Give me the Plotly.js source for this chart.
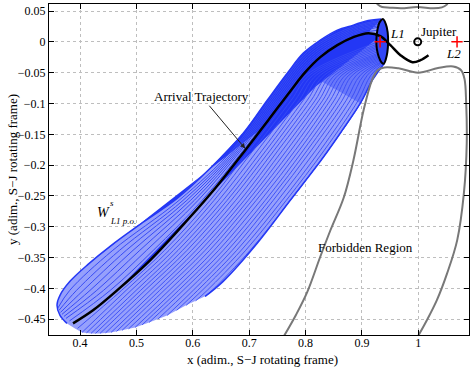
<!DOCTYPE html>
<html>
<head>
<meta charset="utf-8">
<script src="https://cdn.plot.ly/plotly-3.0.1.min.js"></script>
<style>html,body{margin:0;padding:0;background:#fff}#chart{width:474px;height:367px}</style>
</head>
<body>
<div id="chart"></div>
<script>
// ---------- axis ticks ----------
const xTickVals = [0.4, 0.5, 0.6, 0.7, 0.8, 0.9, 1];
const xTickText = ['0.4', '0.5', '0.6', '0.7', '0.8', '0.9', '1'];
const yTickVals = [-0.45, -0.4, -0.35, -0.3, -0.25, -0.2, -0.15, -0.1, -0.05, 0, 0.05];
const yTickText = ['\u22120.45', '\u22120.4', '\u22120.35', '\u22120.3', '\u22120.25', '\u22120.2', '\u22120.15', '\u22120.1', '\u22120.05', '0', '0.05'];

// ---------- manifold envelope ----------
const upperEdgeX = [0.9346, 0.9062, 0.8848, 0.8564, 0.8262, 0.7961, 0.7676, 0.7321, 0.6895, 0.6309, 0.5723, 0.5119, 0.4533, 0.4142, 0.3822, 0.3645, 0.3592, 0.3645, 0.3769];
const upperEdgeY = [0.0369, 0.0336, 0.0271, 0.0190, 0.0028, -0.0183, -0.0508, -0.0946, -0.1482, -0.2050, -0.2539, -0.2926, -0.3316, -0.3609, -0.3885, -0.4112, -0.4274, -0.4437, -0.4567];
const fringeX = [0.3911, 0.4036, 0.4195, 0.4355, 0.4551, 0.4746, 0.4977, 0.5225, 0.5545, 0.5883];
const fringeY = [-0.4648, -0.4713, -0.4729, -0.4729, -0.4713, -0.4680, -0.4632, -0.4551, -0.4437, -0.4274];
const lowerEdgeX = [0.9399, 0.9186, 0.8973, 0.8653, 0.8316, 0.7730, 0.7144, 0.6540, 0.6220];
const lowerEdgeY = [-0.0346, -0.0622, -0.0995, -0.1433, -0.1872, -0.2570, -0.3267, -0.3885, -0.4128];

// ---------- manifold trajectories between the outer edge and the arrival trajectory ----------
const outerLinesX = [
  [0.9337, 0.8848, 0.8262, 0.7961, 0.7357, 0.6700, 0.5758, 0.4582, 0.3818, 0.3609],
  [0.9328, 0.8848, 0.8262, 0.7961, 0.7392, 0.6735, 0.5829, 0.4702, 0.3938, 0.3627],
  [0.9319, 0.8848, 0.8262, 0.7961, 0.7428, 0.6766, 0.5896, 0.4821, 0.4058, 0.3654],
  [0.9310, 0.8848, 0.8262, 0.7961, 0.7463, 0.6797, 0.5962, 0.4941, 0.4178, 0.3680],
  [0.9301, 0.8848, 0.8262, 0.7961, 0.7499, 0.6828, 0.6029, 0.5061, 0.4297, 0.3716],
  [0.9293, 0.8848, 0.8262, 0.7961, 0.7534, 0.6859, 0.6096, 0.5181, 0.4417, 0.3751],
  [0.9284, 0.8848, 0.8262, 0.7961, 0.7570, 0.6895, 0.6167, 0.5301, 0.4537, 0.3814]
];
const outerLinesY = [
  [0.0352, 0.0247, -0.0005, -0.0224, -0.0946, -0.1758, -0.2570, -0.3381, -0.4031, -0.4315],
  [0.0336, 0.0222, -0.0037, -0.0265, -0.0946, -0.1758, -0.2570, -0.3381, -0.4031, -0.4356],
  [0.0312, 0.0198, -0.0074, -0.0309, -0.0946, -0.1758, -0.2570, -0.3381, -0.4031, -0.4388],
  [0.0287, 0.0174, -0.0110, -0.0354, -0.0946, -0.1758, -0.2570, -0.3381, -0.4031, -0.4420],
  [0.0263, 0.0149, -0.0147, -0.0399, -0.0946, -0.1758, -0.2570, -0.3381, -0.4031, -0.4453],
  [0.0239, 0.0125, -0.0183, -0.0443, -0.0946, -0.1758, -0.2570, -0.3381, -0.4031, -0.4486],
  [0.0190, 0.0101, -0.0216, -0.0484, -0.0946, -0.1758, -0.2570, -0.3381, -0.4031, -0.4526]
];
// ---------- manifold trajectories between the arrival trajectory and the inner edge ----------
const innerLinesX = [
  [0.9275, 0.8005, 0.7676, 0.7002, 0.6309, 0.5501, 0.4737, 0.3956],
  [0.9275, 0.8067, 0.7747, 0.7073, 0.6380, 0.5581, 0.4817, 0.4036],
  [0.9275, 0.8129, 0.7818, 0.7153, 0.6460, 0.5661, 0.4906, 0.4115],
  [0.9275, 0.8192, 0.7890, 0.7232, 0.6540, 0.5740, 0.4995, 0.4195],
  [0.9275, 0.8262, 0.7961, 0.7303, 0.6611, 0.5820, 0.5075, 0.4275],
  [0.9275, 0.8333, 0.8032, 0.7374, 0.6682, 0.5900, 0.5154, 0.4355],
  [0.9284, 0.8396, 0.8103, 0.7445, 0.6762, 0.5980, 0.5243, 0.4453],
  [0.9293, 0.8458, 0.8174, 0.7516, 0.6842, 0.6060, 0.5332, 0.4551],
  [0.9301, 0.8520, 0.8240, 0.7592, 0.6913, 0.6140, 0.5412, 0.4648],
  [0.9310, 0.8582, 0.8307, 0.7668, 0.6984, 0.6220, 0.5492, 0.4746],
  [0.9319, 0.8644, 0.8373, 0.7743, 0.7055, 0.6300, 0.5581, 0.4861],
  [0.9328, 0.8706, 0.8440, 0.7818, 0.7126, 0.6380, 0.5669, 0.4977],
  [0.9337, 0.8769, 0.8511, 0.7890, 0.7206, 0.6460, 0.5749, 0.5101],
  [0.9346, 0.8831, 0.8582, 0.7961, 0.7286, 0.6540, 0.5829, 0.5225],
  [0.9355, 0.8902, 0.8653, 0.8032, 0.7357, 0.6620, 0.5918, 0.5385],
  [0.9364, 0.8973, 0.8724, 0.8103, 0.7428, 0.6700, 0.6007, 0.5545],
  [0.9372, 0.9035, 0.8795, 0.8183, 0.7508, 0.6780, 0.6087, 0.5714],
  [0.9381, 0.9097, 0.8866, 0.8262, 0.7588, 0.6859, 0.6167, 0.5883],
  [0.9390, 0.9159, 0.8937, 0.8333, 0.7659, 0.6939, 0.6256, 0.6051],
  [0.9399, 0.9222, 0.9008, 0.8404, 0.7730, 0.7019, 0.6344, 0.6220]
];
const innerLinesY = [
  [-0.0005, -0.0541, -0.0946, -0.1758, -0.2570, -0.3381, -0.4031, -0.4648],
  [-0.0037, -0.0541, -0.0946, -0.1758, -0.2570, -0.3381, -0.4031, -0.4713],
  [-0.0062, -0.0541, -0.0946, -0.1758, -0.2570, -0.3381, -0.4031, -0.4721],
  [-0.0086, -0.0541, -0.0946, -0.1758, -0.2570, -0.3381, -0.4031, -0.4729],
  [-0.0110, -0.0541, -0.0946, -0.1758, -0.2570, -0.3381, -0.4031, -0.4729],
  [-0.0135, -0.0541, -0.0946, -0.1758, -0.2570, -0.3381, -0.4031, -0.4729],
  [-0.0159, -0.0541, -0.0946, -0.1758, -0.2570, -0.3381, -0.4031, -0.4721],
  [-0.0183, -0.0541, -0.0946, -0.1758, -0.2570, -0.3381, -0.4031, -0.4713],
  [-0.0200, -0.0541, -0.0946, -0.1758, -0.2570, -0.3381, -0.4031, -0.4697],
  [-0.0216, -0.0541, -0.0946, -0.1758, -0.2570, -0.3381, -0.4031, -0.4680],
  [-0.0232, -0.0541, -0.0946, -0.1758, -0.2570, -0.3381, -0.4031, -0.4656],
  [-0.0248, -0.0541, -0.0946, -0.1758, -0.2570, -0.3381, -0.4031, -0.4632],
  [-0.0265, -0.0541, -0.0946, -0.1758, -0.2570, -0.3381, -0.4031, -0.4591],
  [-0.0281, -0.0541, -0.0946, -0.1758, -0.2570, -0.3381, -0.4031, -0.4551],
  [-0.0297, -0.0541, -0.0946, -0.1758, -0.2570, -0.3381, -0.4031, -0.4494],
  [-0.0313, -0.0541, -0.0946, -0.1758, -0.2570, -0.3381, -0.4031, -0.4437],
  [-0.0321, -0.0541, -0.0946, -0.1758, -0.2570, -0.3381, -0.4031, -0.4356],
  [-0.0330, -0.0541, -0.0946, -0.1758, -0.2570, -0.3381, -0.4031, -0.4274],
  [-0.0343, -0.0541, -0.0946, -0.1758, -0.2570, -0.3381, -0.4031, -0.4201],
  [-0.0354, -0.0541, -0.0946, -0.1758, -0.2570, -0.3381, -0.4031, -0.4128]
];

// ---------- arrival trajectory ----------
const arrivalX = [0.3876, 0.4231, 0.4657, 0.5243, 0.5918, 0.6398, 0.6930, 0.7339, 0.7730, 0.7996, 0.8262, 0.8564, 0.8848, 0.9115, 0.9328, 0.9506, 0.9684, 0.9897, 1.0039, 1.0181];
const arrivalY = [-0.4567, -0.4355, -0.4031, -0.3544, -0.2878, -0.2375, -0.1758, -0.1271, -0.0800, -0.0492, -0.0248, -0.0054, 0.0076, 0.0141, 0.0093, -0.0054, -0.0216, -0.0330, -0.0297, -0.0216];

// ---------- L1 periodic orbit ----------
const orbitX = [0.9372, 0.9425, 0.9457, 0.9465, 0.9452, 0.9425, 0.9390, 0.9346, 0.9301, 0.9266, 0.9257, 0.9275, 0.9316, 0.9372];
const orbitY = [0.0369, 0.0287, 0.0157, -0.0005, -0.0167, -0.0281, -0.0354, -0.0330, -0.0248, -0.0119, 0.0028, 0.0190, 0.0320, 0.0369];

// ---------- forbidden region boundaries ----------
const forbidLowX = [0.760, 0.783, 0.803, 0.826, 0.844, 0.868, 0.885, 0.903, 0.918, 0.928, 0.940, 0.965, 1.000, 1.035, 1.062, 1.076, 1.082, 1.085, 1.086, 1.081, 1.069, 1.051, 1.033, 1.015, 0.998];
const forbidLowY = [-0.480, -0.443, -0.406, -0.349, -0.306, -0.252, -0.192, -0.111, -0.062, -0.046, -0.0416, -0.043, -0.050, -0.0425, -0.040, -0.046, -0.060, -0.100, -0.164, -0.245, -0.322, -0.376, -0.419, -0.452, -0.480];
const forbidTopX = [0.924, 0.929, 0.936, 0.950, 0.970, 0.998, 1.027, 1.042, 1.050, 1.054];
const forbidTopY = [0.066, 0.060, 0.0565, 0.0555, 0.0545, 0.0565, 0.0545, 0.0560, 0.060, 0.066];

// ---------- special points ----------
const lagrangeX = [0.9323, 1.0688];
const lagrangeY = [0, 0];
const jupiterX = [0.999];
const jupiterY = [0];

// ---------- build traces ----------
const BLUE = 'rgb(35,55,245)';
const LINEBLUE = 'rgb(55,75,245)';
const traces = [];
const skip = {hoverinfo: 'skip', showlegend: false};

// whole manifold tube (lines with white gaps -> lighter average)
traces.push(Object.assign({
  x: upperEdgeX.concat(fringeX, lowerEdgeX.slice().reverse()),
  y: upperEdgeY.concat(fringeY, lowerEdgeY.slice().reverse()),
  mode: 'lines', fill: 'toself', fillcolor: 'rgb(150,160,252)', line: {width: 0}
}, skip));
// denser part near the periodic orbit, below the arrival trajectory
traces.push(Object.assign({
  x: arrivalX.slice(9, 15).concat([lowerEdgeX[0], lowerEdgeX[1], lowerEdgeX[2]]),
  y: arrivalY.slice(9, 15).concat([lowerEdgeY[0], lowerEdgeY[1], lowerEdgeY[2]]),
  mode: 'lines', fill: 'toself', fillcolor: 'rgb(105,120,250)', line: {width: 0}
}, skip));
// dense band between outer edge and arrival trajectory
const nUpper = 14, nArr = 2, nBand = 15;
traces.push(Object.assign({
  x: upperEdgeX.slice(0, nUpper).concat(arrivalX.slice(nArr, nBand).reverse()),
  y: upperEdgeY.slice(0, nUpper).concat(arrivalY.slice(nArr, nBand).reverse()),
  mode: 'lines', fill: 'toself', fillcolor: BLUE, line: {width: 0}
}, skip));
// individual trajectories
outerLinesX.forEach((xs, i) => traces.push(Object.assign({
  x: xs, y: outerLinesY[i], mode: 'lines', line: {color: LINEBLUE, width: 1, shape: 'spline'}
}, skip)));
innerLinesX.forEach((xs, i) => traces.push(Object.assign({
  x: xs, y: innerLinesY[i], mode: 'lines', line: {color: LINEBLUE, width: 0.9, shape: 'spline'}
}, skip)));
traces.push(Object.assign({x: upperEdgeX, y: upperEdgeY, mode: 'lines', line: {color: BLUE, width: 1.5, shape: 'spline'}}, skip));
traces.push(Object.assign({x: lowerEdgeX, y: lowerEdgeY, mode: 'lines', line: {color: BLUE, width: 1.5, shape: 'spline'}}, skip));
// forbidden region
traces.push(Object.assign({x: forbidLowX, y: forbidLowY, mode: 'lines', line: {color: 'rgb(120,120,120)', width: 2, shape: 'spline'}}, skip));
traces.push(Object.assign({x: forbidTopX, y: forbidTopY, mode: 'lines', line: {color: 'rgb(120,120,120)', width: 2, shape: 'spline'}}, skip));
// periodic orbit
traces.push(Object.assign({x: orbitX, y: orbitY, mode: 'lines', fill: 'toself', fillcolor: 'rgb(50,70,245)', line: {color: 'black', width: 2, shape: 'spline'}}, skip));
// arrival trajectory
traces.push(Object.assign({x: arrivalX, y: arrivalY, mode: 'lines', line: {color: 'black', width: 2.5, shape: 'spline'}}, skip));
// L1, L2
traces.push(Object.assign({x: lagrangeX, y: lagrangeY, mode: 'markers', marker: {symbol: 'cross-thin', size: 8, line: {color: 'red', width: 1.5}}}, skip));
// Jupiter
traces.push(Object.assign({x: jupiterX, y: jupiterY, mode: 'markers', marker: {symbol: 'circle-open', size: 7, color: 'black', line: {color: 'black', width: 2}}}, skip));

const FONT = 'Liberation Serif, Times New Roman, serif';
const axisCommon = {
  ticks: 'inside', ticklen: 5, tickcolor: 'black', mirror: 'ticks',
  showline: true, linecolor: 'black', linewidth: 1,
  showgrid: true, gridcolor: 'rgb(190,190,190)', griddash: 'dot', gridwidth: 1,
  zeroline: false, tickfont: {family: FONT, size: 12}
};
const layout = {
  width: 474, height: 367,
  margin: {l: 49, r: 5, t: 4, b: 32},
  paper_bgcolor: 'white', plot_bgcolor: 'white',
  font: {family: FONT, size: 12, color: 'black'},
  showlegend: false,
  xaxis: Object.assign({range: [0.345, 1.09], tickvals: xTickVals, ticktext: xTickText, ticklabelstandoff: -3}, axisCommon),
  yaxis: Object.assign({range: [-0.4755, 0.0614], tickvals: yTickVals, ticktext: yTickText}, axisCommon),
  annotations: [
    {xref: 'paper', yref: 'paper', x: 0.5095, y: -0.075, text: 'x (adim., S\u2212J rotating frame)', showarrow: false, xanchor: 'center', yanchor: 'middle', font: {family: FONT, size: 13}},
    {xref: 'paper', yref: 'paper', x: -0.087, y: 0.5, text: 'y (adim., S\u2212J rotating frame)', textangle: -90, showarrow: false, xanchor: 'center', yanchor: 'middle', font: {family: FONT, size: 13}},
    {x: 0.693, y: -0.173, ax: 0.616, ay: -0.089, axref: 'x', ayref: 'y', text: 'Arrival Trajectory', showarrow: true, arrowhead: 2, arrowsize: 1, arrowwidth: 1, arrowcolor: '#222', font: {family: FONT, size: 13}},
    {x: 0.906, y: -0.333, text: 'Forbidden Region', showarrow: false, font: {family: FONT, size: 13}},
    {x: 1.037, y: 0.016, text: 'Jupiter', showarrow: false, font: {family: FONT, size: 13}},
    {x: 0.963, y: 0.014, text: '<i>L1</i>', showarrow: false, font: {family: FONT, size: 13}},
    {x: 1.063, y: -0.019, text: '<i>L2</i>', showarrow: false, font: {family: FONT, size: 13}},
    {x: 0.4408, y: -0.2765, text: '<i>W</i>', showarrow: false, font: {family: FONT, size: 14}},
    {x: 0.4568, y: -0.2619, text: '<i>s</i>', showarrow: false, font: {family: FONT, size: 9}},
    {x: 0.4764, y: -0.2911, text: '<i>L1 p.o.</i>', showarrow: false, font: {family: FONT, size: 9}}
  ]
};

Plotly.newPlot('chart', traces, layout, {staticPlot: true, displayModeBar: false});
</script>
</body>
</html>
